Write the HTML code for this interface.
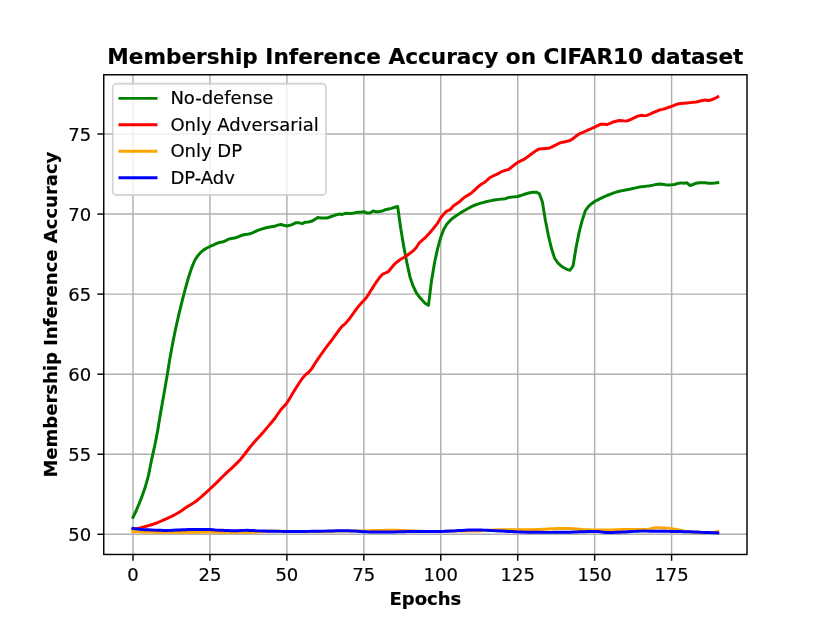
<!DOCTYPE html>
<html lang="en">
<head>
<meta charset="utf-8">
<title>Membership Inference Accuracy on CIFAR10 dataset</title>
<style>
html,body{margin:0;padding:0;background:#fff;}
body{width:830px;height:623px;overflow:hidden;}
svg{display:block;}
svg text{font-family:"DejaVu Sans", "Liberation Sans", sans-serif;fill:#000;stroke:#000;stroke-width:0.1px;}
.tk{font-size:10px;}
.b{font-weight:700;}
.grid line{stroke:#b0b0b0;stroke-width:0.8;}
.ticks line{stroke:#000;stroke-width:0.8;}
.series polyline{fill:none;stroke-width:1.65;stroke-linejoin:round;stroke-linecap:square;}
</style>
</head>
<body>
<svg width="830" height="623" viewBox="0 0 460.8 345.6" preserveAspectRatio="none">
<rect x="0" y="0" width="460.8" height="345.6" fill="#ffffff"/>
<defs><clipPath id="ax"><rect x="57.6" y="41.472" width="357.12" height="266.112"/></clipPath></defs>
<g class="grid">
<line x1="73.833" y1="307.584" x2="73.833" y2="41.472"/>
<line x1="116.550" y1="307.584" x2="116.550" y2="41.472"/>
<line x1="159.268" y1="307.584" x2="159.268" y2="41.472"/>
<line x1="201.986" y1="307.584" x2="201.986" y2="41.472"/>
<line x1="244.704" y1="307.584" x2="244.704" y2="41.472"/>
<line x1="287.421" y1="307.584" x2="287.421" y2="41.472"/>
<line x1="330.139" y1="307.584" x2="330.139" y2="41.472"/>
<line x1="372.857" y1="307.584" x2="372.857" y2="41.472"/>
<line x1="57.600" y1="296.392" x2="414.720" y2="296.392"/>
<line x1="57.600" y1="251.981" x2="414.720" y2="251.981"/>
<line x1="57.600" y1="207.570" x2="414.720" y2="207.570"/>
<line x1="57.600" y1="163.159" x2="414.720" y2="163.159"/>
<line x1="57.600" y1="118.748" x2="414.720" y2="118.748"/>
<line x1="57.600" y1="74.336" x2="414.720" y2="74.336"/>
</g>
<g class="ticks">
<line x1="73.833" y1="307.584" x2="73.833" y2="311.084"/>
<line x1="116.550" y1="307.584" x2="116.550" y2="311.084"/>
<line x1="159.268" y1="307.584" x2="159.268" y2="311.084"/>
<line x1="201.986" y1="307.584" x2="201.986" y2="311.084"/>
<line x1="244.704" y1="307.584" x2="244.704" y2="311.084"/>
<line x1="287.421" y1="307.584" x2="287.421" y2="311.084"/>
<line x1="330.139" y1="307.584" x2="330.139" y2="311.084"/>
<line x1="372.857" y1="307.584" x2="372.857" y2="311.084"/>
<line x1="54.100" y1="296.392" x2="57.600" y2="296.392"/>
<line x1="54.100" y1="251.981" x2="57.600" y2="251.981"/>
<line x1="54.100" y1="207.570" x2="57.600" y2="207.570"/>
<line x1="54.100" y1="163.159" x2="57.600" y2="163.159"/>
<line x1="54.100" y1="118.748" x2="57.600" y2="118.748"/>
<line x1="54.100" y1="74.336" x2="57.600" y2="74.336"/>
</g>
<g class="tk">
<text x="73.833" y="322.182" text-anchor="middle">0</text>
<text x="116.550" y="322.182" text-anchor="middle">25</text>
<text x="159.268" y="322.182" text-anchor="middle">50</text>
<text x="201.986" y="322.182" text-anchor="middle">75</text>
<text x="244.704" y="322.182" text-anchor="middle">100</text>
<text x="287.421" y="322.182" text-anchor="middle">125</text>
<text x="330.139" y="322.182" text-anchor="middle">150</text>
<text x="372.857" y="322.182" text-anchor="middle">175</text>
<text x="50.6" y="300.192" text-anchor="end">50</text>
<text x="50.6" y="255.781" text-anchor="end">55</text>
<text x="50.6" y="211.370" text-anchor="end">60</text>
<text x="50.6" y="166.959" text-anchor="end">65</text>
<text x="50.6" y="122.548" text-anchor="end">70</text>
<text x="50.6" y="78.136" text-anchor="end">75</text>
</g>
<text class="tk b" x="236.16" y="335.861" text-anchor="middle">Epochs</text>
<text class="tk b" x="31.717" y="174.528" text-anchor="middle" transform="rotate(-90 31.717 174.528)">Membership Inference Accuracy</text>
<g class="series" clip-path="url(#ax)">
<polyline stroke="#008000" points="73.83,286.98 75.54,283.47 77.25,279.45 78.96,275.07 80.67,270.13 82.38,263.97 84.08,255.41 85.79,247.78 87.50,239.06 89.21,228.70 90.92,219.10 92.63,209.32 94.34,198.70 96.05,189.39 97.75,181.26 99.46,173.74 101.17,166.78 102.88,160.24 104.59,154.09 106.30,148.87 108.01,144.61 109.72,141.96 111.42,140.03 113.13,138.62 114.84,137.56 116.55,136.73 118.26,136.02 119.97,135.13 121.68,134.52 123.39,134.30 125.09,133.61 126.80,132.69 128.51,132.35 130.22,132.06 131.93,131.49 133.64,130.76 135.35,130.23 137.05,130.00 138.76,129.71 140.47,129.02 142.18,128.23 143.89,127.56 145.60,126.94 147.31,126.48 149.02,126.08 150.72,125.79 152.43,125.53 154.14,124.90 155.85,124.51 157.56,124.97 159.27,125.36 160.98,124.99 162.69,124.36 164.39,123.54 166.10,123.61 167.81,124.08 169.52,123.23 171.23,123.13 172.94,122.78 174.65,121.86 176.36,120.70 178.06,120.92 179.77,120.97 181.48,120.97 183.19,120.38 184.90,119.73 186.61,119.14 188.32,118.76 190.02,118.97 191.73,118.32 193.44,118.49 195.15,118.39 196.86,118.07 198.57,117.77 200.28,117.77 201.99,117.42 203.69,118.21 205.40,118.13 207.11,117.08 208.82,117.42 210.53,117.42 212.24,117.06 213.95,116.35 215.66,115.98 217.36,115.58 219.07,114.98 220.78,114.57 222.49,126.74 224.20,136.96 225.91,145.84 227.62,153.63 229.33,158.63 231.03,162.22 232.74,164.63 234.45,166.58 236.16,168.33 237.87,169.38 239.58,155.70 241.29,145.50 242.99,137.75 244.70,131.59 246.41,127.17 248.12,124.28 249.83,122.40 251.54,120.88 253.25,119.69 254.96,118.57 256.66,117.50 258.37,116.47 260.08,115.51 261.79,114.61 263.50,113.85 265.21,113.25 266.92,112.71 268.63,112.24 270.33,111.81 272.04,111.42 273.75,111.06 275.46,110.78 277.17,110.60 278.88,110.44 280.59,110.22 282.30,109.61 284.00,109.34 285.71,109.18 287.42,108.98 289.13,108.47 290.84,107.87 292.55,107.37 294.26,106.92 295.96,106.68 297.67,106.58 299.38,107.38 301.09,111.87 302.80,122.29 304.51,130.92 306.22,138.03 307.93,143.27 309.63,145.75 311.34,147.37 313.05,148.53 314.76,149.41 316.47,149.92 318.18,147.44 319.89,136.88 321.60,128.47 323.30,122.00 325.01,116.83 326.72,114.51 328.43,113.00 330.14,111.82 331.85,110.87 333.56,110.00 335.27,109.19 336.97,108.45 338.68,107.78 340.39,107.15 342.10,106.57 343.81,106.11 345.52,105.75 347.23,105.43 348.93,105.10 350.64,104.74 352.35,104.34 354.06,103.95 355.77,103.62 357.48,103.42 359.19,103.25 360.90,103.05 362.60,102.70 364.31,102.30 366.02,102.05 367.73,102.21 369.44,102.46 371.15,102.57 372.86,102.50 374.57,102.34 376.27,101.76 377.98,101.45 379.69,101.69 381.40,101.43 383.11,102.92 384.82,102.34 386.53,101.62 388.24,101.43 389.94,101.43 391.65,101.43 393.36,101.60 395.07,101.67 396.78,101.56 398.49,101.34"/>
<polyline stroke="#ff0000" points="73.83,293.55 75.54,293.28 77.25,292.98 78.96,292.54 80.67,292.07 82.38,291.60 84.08,291.08 85.79,290.54 87.50,289.91 89.21,289.16 90.92,288.40 92.63,287.66 94.34,286.92 96.05,286.07 97.75,285.12 99.46,284.13 101.17,283.01 102.88,281.86 104.59,280.76 106.30,279.71 108.01,278.63 109.72,277.36 111.42,275.92 113.13,274.39 114.84,272.83 116.55,271.26 118.26,269.63 119.97,267.99 121.68,266.32 123.39,264.60 125.09,262.91 126.80,261.34 128.51,259.79 130.22,258.16 131.93,256.48 133.64,254.73 135.35,252.56 137.05,250.33 138.76,248.11 140.47,246.07 142.18,244.13 143.89,242.22 145.60,240.31 147.31,238.37 149.02,236.39 150.72,234.39 152.43,232.33 154.14,229.81 155.85,227.33 157.56,225.47 159.27,223.56 160.98,220.81 162.69,217.91 164.39,215.13 166.10,212.49 167.81,209.95 169.52,207.97 171.23,206.66 172.94,204.76 174.65,201.91 176.36,199.37 178.06,196.92 179.77,194.52 181.48,192.16 183.19,190.00 184.90,187.75 186.61,185.33 188.32,182.96 190.02,180.89 191.73,179.48 193.44,177.56 195.15,175.20 196.86,172.80 198.57,170.52 200.28,168.46 201.99,166.69 203.69,164.77 205.40,162.00 207.11,159.26 208.82,156.59 210.53,154.22 212.24,152.23 213.95,151.44 215.66,150.63 217.36,148.57 219.07,146.48 220.78,145.02 222.49,143.80 224.20,142.81 225.91,141.71 227.62,140.45 229.33,139.17 231.03,137.47 232.74,134.80 234.45,133.23 236.16,131.80 237.87,129.92 239.58,127.96 241.29,125.90 242.99,123.74 244.70,120.79 246.41,118.70 248.12,116.97 249.83,116.46 251.54,114.40 253.25,113.17 254.96,112.06 256.66,110.44 258.37,109.11 260.08,108.09 261.79,107.02 263.50,105.45 265.21,103.81 266.92,102.37 268.63,101.40 270.33,100.05 272.04,98.46 273.75,97.61 275.46,96.88 277.17,95.96 278.88,95.03 280.59,94.51 282.30,94.00 284.00,92.76 285.71,91.36 287.42,90.06 289.13,89.25 290.84,88.46 292.55,87.27 294.26,85.98 295.96,84.76 297.67,83.56 299.38,82.60 301.09,82.47 302.80,82.37 304.51,82.26 306.22,81.62 307.93,80.75 309.63,79.85 311.34,79.13 313.05,78.74 314.76,78.36 316.47,77.94 318.18,76.83 319.89,75.49 321.60,74.30 323.30,73.53 325.01,72.81 326.72,72.06 328.43,71.29 330.14,70.52 331.85,69.65 333.56,68.91 335.27,68.94 336.97,69.08 338.68,68.47 340.39,67.67 342.10,67.23 343.81,66.87 345.52,66.93 347.23,67.18 348.93,66.84 350.64,66.06 352.35,65.20 354.06,64.40 355.77,63.98 357.48,64.22 359.19,63.99 360.90,63.32 362.60,62.53 364.31,61.73 366.02,61.06 367.73,60.68 369.44,60.20 371.15,59.59 372.86,58.97 374.57,58.27 376.27,57.64 377.98,57.43 379.69,57.25 381.40,57.10 383.11,56.94 384.82,56.78 386.53,56.59 388.24,56.20 389.94,55.75 391.65,55.43 393.36,55.73 395.07,55.35 396.78,54.64 398.49,53.73"/>
<polyline stroke="#ffa500" points="73.83,294.88 75.54,294.94 77.25,295.00 78.96,295.05 80.67,295.10 82.38,295.15 84.08,295.19 85.79,295.24 87.50,295.28 89.21,295.31 90.92,295.33 92.63,295.33 94.34,295.33 96.05,295.33 97.75,295.33 99.46,295.33 101.17,295.32 102.88,295.30 104.59,295.28 106.30,295.26 108.01,295.24 109.72,295.22 111.42,295.20 113.13,295.18 114.84,295.16 116.55,295.15 118.26,295.17 119.97,295.21 121.68,295.26 123.39,295.30 125.09,295.33 126.80,295.33 128.51,295.33 130.22,295.33 131.93,295.33 133.64,295.33 135.35,295.31 137.05,295.28 138.76,295.24 140.47,295.20 142.18,295.15 143.89,295.05 145.60,294.93 147.31,294.79 149.02,294.68 150.72,294.62 152.43,294.64 154.14,294.68 155.85,294.72 157.56,294.76 159.27,294.79 160.98,294.81 162.69,294.82 164.39,294.83 166.10,294.84 167.81,294.85 169.52,294.86 171.23,294.87 172.94,294.87 174.65,294.88 176.36,294.88 178.06,294.86 179.77,294.83 181.48,294.79 183.19,294.75 184.90,294.70 186.61,294.67 188.32,294.63 190.02,294.62 191.73,294.62 193.44,294.62 195.15,294.62 196.86,294.62 198.57,294.62 200.28,294.62 201.99,294.62 203.69,294.55 205.40,294.45 207.11,294.34 208.82,294.26 210.53,294.24 212.24,294.22 213.95,294.20 215.66,294.19 217.36,294.18 219.07,294.17 220.78,294.20 222.49,294.25 224.20,294.31 225.91,294.38 227.62,294.44 229.33,294.51 231.03,294.60 232.74,294.68 234.45,294.75 236.16,294.79 237.87,294.79 239.58,294.79 241.29,294.79 242.99,294.79 244.70,294.79 246.41,294.77 248.12,294.73 249.83,294.68 251.54,294.64 253.25,294.62 254.96,294.62 256.66,294.62 258.37,294.62 260.08,294.62 261.79,294.62 263.50,294.58 265.21,294.51 266.92,294.43 268.63,294.34 270.33,294.26 272.04,294.17 273.75,294.06 275.46,293.95 277.17,293.87 278.88,293.82 280.59,293.82 282.30,293.82 284.00,293.82 285.71,293.82 287.42,293.82 289.13,293.82 290.84,293.82 292.55,293.82 294.26,293.82 295.96,293.82 297.67,293.78 299.38,293.71 301.09,293.63 302.80,293.54 304.51,293.46 306.22,293.36 307.93,293.26 309.63,293.16 311.34,293.11 313.05,293.12 314.76,293.16 316.47,293.19 318.18,293.30 319.89,293.45 321.60,293.60 323.30,293.73 325.01,293.81 326.72,293.89 328.43,293.96 330.14,293.99 331.85,293.99 333.56,293.99 335.27,293.99 336.97,293.99 338.68,293.99 340.39,293.96 342.10,293.90 343.81,293.83 345.52,293.76 347.23,293.73 348.93,293.73 350.64,293.73 352.35,293.73 354.06,293.73 355.77,293.73 357.48,293.70 359.19,293.64 360.90,293.41 362.60,293.07 364.31,292.80 366.02,292.77 367.73,292.84 369.44,292.93 371.15,293.10 372.86,293.31 374.57,293.55 376.27,293.87 377.98,294.23 379.69,294.57 381.40,294.83 383.11,294.99 384.82,295.13 386.53,295.24 388.24,295.30 389.94,295.35 391.65,295.39 393.36,295.42 395.07,295.35 396.78,295.24 398.49,294.88"/>
<polyline stroke="#0000ff" points="73.83,293.19 75.54,293.39 77.25,293.57 78.96,293.73 80.67,293.83 82.38,293.93 84.08,294.01 85.79,294.08 87.50,294.14 89.21,294.19 90.92,294.24 92.63,294.26 94.34,294.22 96.05,294.15 97.75,294.07 99.46,293.99 101.17,293.92 102.88,293.84 104.59,293.77 106.30,293.73 108.01,293.73 109.72,293.73 111.42,293.73 113.13,293.73 114.84,293.73 116.55,293.73 118.26,293.89 119.97,294.08 121.68,294.15 123.39,294.21 125.09,294.26 126.80,294.33 128.51,294.40 130.22,294.44 131.93,294.39 133.64,294.31 135.35,294.22 137.05,294.17 138.76,294.24 140.47,294.34 142.18,294.44 143.89,294.50 145.60,294.56 147.31,294.62 149.02,294.67 150.72,294.70 152.43,294.73 154.14,294.75 155.85,294.77 157.56,294.78 159.27,294.79 160.98,294.79 162.69,294.79 164.39,294.79 166.10,294.79 167.81,294.79 169.52,294.78 171.23,294.77 172.94,294.75 174.65,294.73 176.36,294.70 178.06,294.68 179.77,294.64 181.48,294.61 183.19,294.57 184.90,294.53 186.61,294.47 188.32,294.41 190.02,294.36 191.73,294.37 193.44,294.44 195.15,294.53 196.86,294.62 198.57,294.71 200.28,294.82 201.99,294.93 203.69,295.04 205.40,295.11 207.11,295.15 208.82,295.14 210.53,295.13 212.24,295.12 213.95,295.11 215.66,295.09 217.36,295.08 219.07,295.06 220.78,295.03 222.49,294.99 224.20,294.94 225.91,294.89 227.62,294.85 229.33,294.81 231.03,294.79 232.74,294.79 234.45,294.79 236.16,294.79 237.87,294.79 239.58,294.79 241.29,294.79 242.99,294.79 244.70,294.79 246.41,294.76 248.12,294.69 249.83,294.61 251.54,294.52 253.25,294.44 254.96,294.34 256.66,294.23 258.37,294.13 260.08,294.05 261.79,294.04 263.50,294.04 265.21,294.04 266.92,294.04 268.63,294.08 270.33,294.16 272.04,294.25 273.75,294.35 275.46,294.44 277.17,294.53 278.88,294.62 280.59,294.71 282.30,294.79 284.00,294.88 285.71,294.96 287.42,295.05 289.13,295.12 290.84,295.19 292.55,295.24 294.26,295.26 295.96,295.27 297.67,295.29 299.38,295.30 301.09,295.31 302.80,295.32 304.51,295.33 306.22,295.32 307.93,295.31 309.63,295.29 311.34,295.28 313.05,295.26 314.76,295.24 316.47,295.20 318.18,295.14 319.89,295.09 321.60,295.03 323.30,294.97 325.01,294.92 326.72,294.87 328.43,294.82 330.14,294.79 331.85,294.88 333.56,295.04 335.27,295.22 336.97,295.36 338.68,295.41 340.39,295.36 342.10,295.30 343.81,295.22 345.52,295.14 347.23,295.06 348.93,294.97 350.64,294.87 352.35,294.77 354.06,294.69 355.77,294.63 357.48,294.62 359.19,294.64 360.90,294.66 362.60,294.68 364.31,294.70 366.02,294.72 367.73,294.74 369.44,294.76 371.15,294.77 372.86,294.79 374.57,294.82 376.27,294.85 377.98,294.89 379.69,294.93 381.40,294.97 383.11,295.03 384.82,295.10 386.53,295.18 388.24,295.26 389.94,295.33 391.65,295.38 393.36,295.44 395.07,295.49 396.78,295.54 398.49,295.59"/>
</g>
<rect x="57.6" y="41.472" width="357.12" height="266.112" fill="none" stroke="#000" stroke-width="0.8"/>
<text class="b" font-size="12" x="236.16" y="35.3" text-anchor="middle">Membership Inference Accuracy on CIFAR10 dataset</text>
<g class="legend">
<rect x="62.6" y="46.472" width="118.414" height="61.7125" rx="2" ry="2" fill="#ffffff" fill-opacity="0.8" stroke="#cccccc" stroke-opacity="0.8" stroke-width="1"/>
<line x1="66.6" y1="54.570" x2="86.6" y2="54.570" stroke="#008000" stroke-width="1.65" stroke-linecap="square"/>
<text class="tk" x="94.6" y="57.820">No-defense</text>
<line x1="66.6" y1="69.249" x2="86.6" y2="69.249" stroke="#ff0000" stroke-width="1.65" stroke-linecap="square"/>
<text class="tk" x="94.6" y="72.499">Only Adversarial</text>
<line x1="66.6" y1="83.927" x2="86.6" y2="83.927" stroke="#ffa500" stroke-width="1.65" stroke-linecap="square"/>
<text class="tk" x="94.6" y="87.177">Only DP</text>
<line x1="66.6" y1="98.605" x2="86.6" y2="98.605" stroke="#0000ff" stroke-width="1.65" stroke-linecap="square"/>
<text class="tk" x="94.6" y="101.855">DP-Adv</text>
</g>
</svg>
</body>
</html>
